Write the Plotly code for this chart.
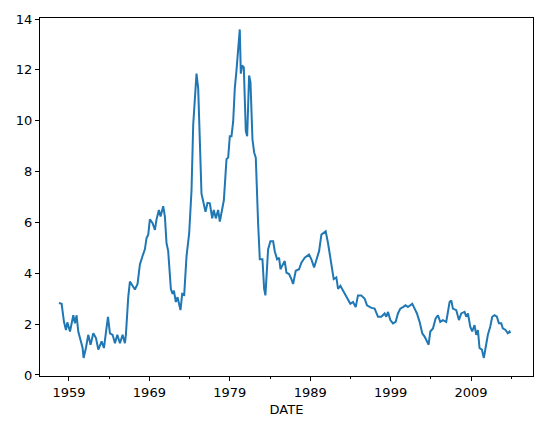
import plotly.graph_objects as go

# decimal years
dates = [
    1957.76, 1958.09, 1958.22, 1958.38, 1958.63, 1958.80, 1959.13, 1959.33, 1959.54, 1959.75,
    1959.95, 1960.16, 1960.45, 1960.70, 1960.82, 1961.11, 1961.40, 1961.69, 1962.03, 1962.36,
    1962.65, 1963.06, 1963.35, 1963.60, 1963.85, 1964.10, 1964.43, 1964.72, 1965.01, 1965.34,
    1965.67, 1965.96, 1966.08, 1966.37, 1966.58, 1966.91, 1967.20, 1967.53, 1967.82, 1968.15,
    1968.44, 1968.65, 1968.86, 1969.06, 1969.40, 1969.69, 1969.89, 1970.18, 1970.39, 1970.72,
    1970.93, 1971.13, 1971.34, 1971.67, 1971.88, 1972.05, 1972.29, 1972.50, 1972.71, 1972.87,
    1973.08, 1973.33, 1973.62, 1973.95, 1974.24, 1974.45, 1974.86, 1975.07, 1975.48, 1975.69,
    1975.98, 1976.23, 1976.52, 1976.81, 1977.01, 1977.26, 1977.55, 1977.76, 1977.97, 1978.26,
    1978.59, 1978.80, 1979.00, 1979.21, 1979.42, 1979.62, 1979.83, 1980.12, 1980.24, 1980.37,
    1980.53, 1980.74, 1980.99, 1981.16, 1981.40, 1981.57, 1981.82, 1982.03, 1982.23, 1982.52,
    1982.73, 1983.06, 1983.27, 1983.43, 1983.76, 1984.05, 1984.39, 1984.59, 1984.88, 1985.13,
    1985.30, 1985.50, 1985.83, 1986.04, 1986.37,
    1986.66, 1986.87, 1987.20, 1987.61, 1987.90, 1988.32, 1988.85, 1989.14, 1989.48, 1989.76,
    1990.10, 1990.39, 1990.68, 1990.92, 1991.21, 1991.50, 1991.71, 1991.92, 1992.25, 1992.46,
    1992.75, 1993.08, 1993.37, 1993.70, 1993.99, 1994.32, 1994.65, 1994.94, 1995.35, 1995.77,
    1996.06, 1996.60, 1997.01, 1997.43, 1997.84, 1998.25, 1998.46, 1998.67, 1998.96, 1999.29,
    1999.62, 1999.91, 2000.20, 2000.53, 2000.86, 2001.15, 2001.44, 2001.69, 2001.98, 2002.27,
    2002.60, 2002.93, 2003.22, 2003.55, 2003.72, 2003.93, 2004.26, 2004.59, 2004.88, 2005.17,
    2005.50, 2005.91, 2006.12, 2006.33, 2006.54, 2006.74, 2007.16, 2007.49, 2007.78, 2008.19,
    2008.40, 2008.61, 2008.90, 2009.14, 2009.43, 2009.64, 2009.85, 2010.05, 2010.34, 2010.59,
    2010.80, 2011.09, 2011.38, 2011.63, 2011.92, 2012.21, 2012.46, 2012.75, 2012.95, 2013.28,
    2013.57, 2013.78, 2013.86,
]

values = [
    2.83, 2.80, 2.48, 2.09, 1.77, 2.07, 1.71, 2.07, 2.35, 2.03,
    2.35, 1.71, 1.32, 1.06, 0.67, 1.06, 1.58, 1.19, 1.64, 1.45,
    1.00, 1.32, 1.06, 1.58, 2.29, 1.64, 1.58, 1.25, 1.58, 1.25,
    1.58, 1.25, 1.58, 3.06, 3.67, 3.51, 3.36, 3.58, 4.35, 4.68,
    4.94, 5.39, 5.52, 6.12, 5.97, 5.71, 6.12, 6.49, 6.23, 6.64,
    6.23, 5.19, 4.87, 3.39, 3.19, 3.32, 2.87, 3.06, 2.74, 2.55,
    3.19, 3.15, 4.68, 5.58, 7.26, 9.84, 11.85, 11.27, 7.13, 6.81,
    6.42, 6.77, 6.75, 6.16, 6.49, 6.16, 6.49, 6.03, 6.42, 6.87,
    8.49, 8.55, 9.39, 9.39, 9.97, 11.27, 11.98, 13.07, 13.59, 11.85,
    12.17, 12.10, 9.59, 9.39, 11.78, 11.52, 9.26, 8.75, 8.55, 5.97,
    4.55, 4.55, 3.39, 3.13, 4.94, 5.26, 5.26, 4.87, 4.55, 4.61,
    4.16, 4.29, 4.48, 4.03, 3.97,
    3.77, 3.58, 4.10, 4.16, 4.42, 4.61, 4.74, 4.55, 4.23, 4.48,
    4.87, 5.52, 5.58, 5.65, 5.19, 4.55, 4.29, 3.77, 3.84, 3.39,
    3.51, 3.32, 3.13, 2.93, 2.80, 2.87, 2.67, 3.13, 3.13, 3.00,
    2.74, 2.64, 2.61, 2.29, 2.29, 2.42, 2.29, 2.48, 2.16, 2.03,
    2.09, 2.42, 2.61, 2.67, 2.74, 2.67, 2.74, 2.80, 2.61, 2.42,
    2.09, 1.64, 1.51, 1.25, 1.19, 1.71, 1.83, 2.22, 2.35, 2.09,
    2.16, 2.09, 2.55, 2.87, 2.93, 2.61, 2.55, 2.16, 2.42, 2.48,
    2.29, 2.42, 1.90, 1.71, 1.96, 1.58, 1.77, 1.06, 1.00, 0.67,
    1.06, 1.58, 1.90, 2.29, 2.35, 2.29, 2.03, 2.03, 1.83, 1.77,
    1.64, 1.71, 1.64,
]

year_ticks = [1959, 1969, 1979, 1989, 1999, 2009]
minor_ticks = [1964, 1974, 1984, 1994, 2004, 2014]
y_ticks = [0, 2, 4, 6, 8, 10, 12, 14]

n = min(len(dates), len(values))

fig = go.Figure(go.Scatter(
    x=dates[:n], y=values[:n], mode='lines',
    line=dict(color='#1f77b4', width=2), showlegend=False,
))

axis_common = dict(
    showgrid=False, zeroline=False, showline=True, linecolor='black', linewidth=1,
    mirror=True, ticks='outside', ticklen=4, tickcolor='black',
    tickfont=dict(size=13, color='black'), ticklabeloverflow='allow',
)

fig.update_xaxes(
    range=[1955.4, 2016.7], tickvals=year_ticks, ticktext=[str(y) for y in year_ticks],
    minor=dict(tickvals=minor_ticks, ticks='outside', ticklen=2, tickcolor='black'),
    title=dict(text='DATE', font=dict(size=13, color='black'), standoff=6),
    **axis_common,
)
fig.update_yaxes(range=[-0.04, 14.04], tickvals=y_ticks, **axis_common)

# the page body adds an 8px offset; size the figure to fit inside the window
fig.update_layout(
    width=536, height=411,
    margin=dict(l=32, r=11, t=4, b=38),
    plot_bgcolor='white', paper_bgcolor='white',
    font=dict(family='DejaVu Sans', color='black'),
)

fig.write_html("out.html")
